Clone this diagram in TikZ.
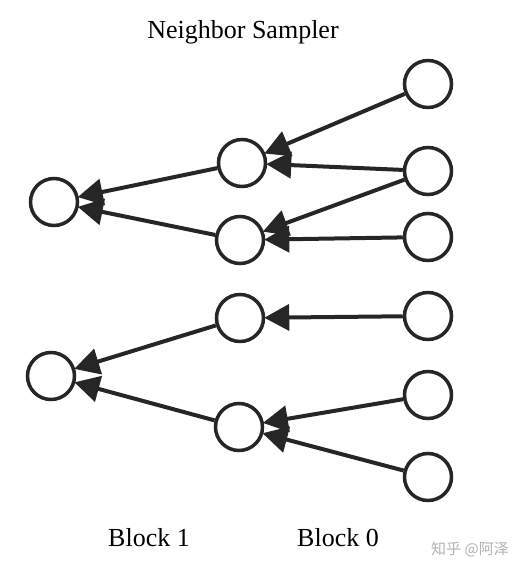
\documentclass[tikz,border=0pt]{standalone}
\usepackage{fontspec}
\setmainfont{Liberation Serif}
\newfontfamily\cjk{Noto Sans CJK SC}
\usetikzlibrary{arrows.meta}
\tikzset{vtx/.style={circle, draw=black!85, line width=3.5pt, minimum size=47pt, inner sep=0pt},
         edge/.style={draw=black!85, line width=4pt, -{Triangle[length=25pt, width=26pt]}, shorten >=-1pt}}

\begin{document}
\begin{tikzpicture} [x=1pt, y=-1pt]
\useasboundingbox (0,0) rectangle (526,574);
\node at (243,32) {\fontsize{26}{30}\selectfont Neighbor Sampler};
\node at (149,538) {\fontsize{26}{30}\selectfont Block 1};
\node at (338,538) {\fontsize{26}{30}\selectfont Block 0};
\node[text=black!30] at (470,549) {\cjk\fontsize{15}{17}\selectfont 知乎 @阿泽};

% block 1
\node[vtx] (l1) at (54,202) {};
\node[vtx] (l2) at (51,376) {};
% block 0 sources of block 1
\node[vtx] (m1) at (242,163) {};
\node[vtx] (m2) at (240,240) {};
\node[vtx] (m3) at (240,318) {};
\node[vtx] (m4) at (239,427) {};
% sampled neighbours
\foreach \i/\y in {1/84,2/171,3/237,4/316,5/395,6/477} {
 \node[vtx] (r\i) at (428,\y) {};
}

\foreach \a/\b in {r1/m1,r2/m1,r2/m2,r3/m2,r4/m3,r5/m4,r6/m4,m1/l1,m2/l1,m3/l2,m4/l2} {
 \draw[edge] (\a) -- (\b);
}
\end{tikzpicture}
\end{document}
